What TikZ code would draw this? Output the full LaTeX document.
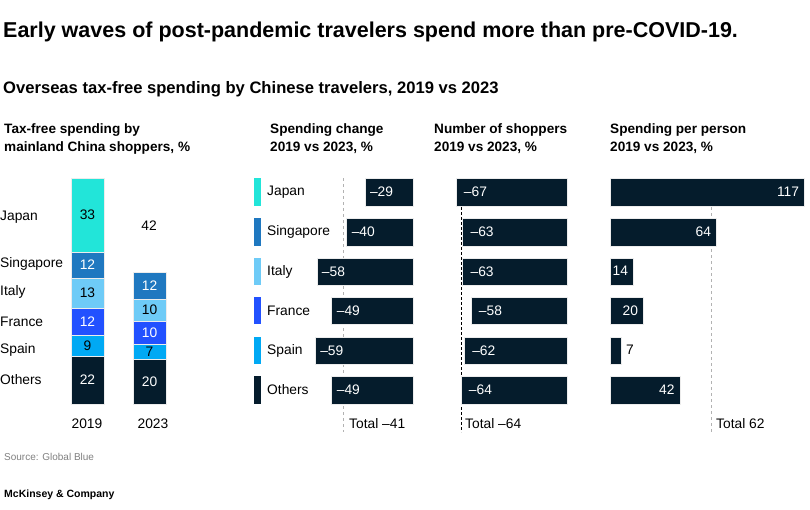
\documentclass[tikz,border=0pt]{standalone}
\usepackage{fontspec}
\setmainfont{Liberation Sans}
\definecolor{cjapan}{HTML}{22E5D9}
\definecolor{csing}{HTML}{1F78C0}
\definecolor{citaly}{HTML}{6ECBF7}
\definecolor{cfrance}{HTML}{2251FF}
\definecolor{cspain}{HTML}{00A9F4}
\definecolor{cdark}{HTML}{051C2C}
\begin{document}
\begin{tikzpicture}[x=1pt, y=-1pt, font=\fontsize{13.8}{15}\selectfont]
\tikzset{hdr/.style={anchor=north west, align=left, inner sep=0, font=\fontsize{13.6}{18}\selectfont\bfseries}}
\tikzset{lbl/.style={anchor=west, inner sep=0}}
\tikzset{seg/.style={draw=white!85!gray, line width=0.4pt}}
\useasboundingbox (0,0) rectangle (810,509);
% titles
\node[anchor=west, inner sep=0, font=\fontsize{21.5}{24}\selectfont\bfseries] (title) at (3,32) {Early waves of post-pandemic travelers spend more than pre-COVID-19.};
\node[anchor=west, inner sep=0, font=\fontsize{16.6}{18}\selectfont\bfseries] (sub) at (3,89) {Overseas tax-free spending by Chinese travelers, 2019 vs 2023};
\node[hdr] (h1) at (4,123) {Tax-free spending by\\mainland China shoppers, \%};
\node[hdr] (h2) at (270,123) {Spending change\\2019 vs 2023, \%};
\node[hdr] (h3) at (434,123) {Number of shoppers\\2019 vs 2023, \%};
\node[hdr] (h4) at (610,123) {Spending per person\\2019 vs 2023, \%};
% stacked bars
\foreach \a/\b/\c/\v/\t in {178/252/cjapan/33/black, 252/278/csing/12/white, 278/308/citaly/13/black, 308/335/cfrance/12/white, 335/356/cspain/9/black, 356/404/cdark/22/white}
  \filldraw[seg, fill=\c] (71,\a) rectangle node[text=\t] {\v} (104,\b);
\foreach \a/\b/\c/\v/\t in {272/299/csing/12/white, 299/321/citaly/10/black, 321/344/cfrance/10/white, 344/359/cspain/7/black, 359/404/cdark/20/white}
  \filldraw[seg, fill=\c] (133,\a) rectangle node[text=\t] {\v} (166,\b);
\node (j23) at (149,226) {42};
\foreach \y/\n in {217/Japan, 264/Singapore, 292/Italy, 322/France, 350/Spain, 380/Others}
  \node[lbl] at (0,\y) {\n};
\node (y19) at (87,424) {2019};
\node (y23) at (153,424) {2023};
% reference lines
\draw[gray!60, dashed] (343,178) -- (343,432);
\draw[black, densely dashed] (461,207) -- (461,432);
\draw[gray!60, dashed] (711,207) -- (711,432);
% rows
\foreach \a/\b/\c/\n/\s/\p/\q in {178/206/cjapan/Japan/29/67/117, 218/246/csing/Singapore/40/63/64, 258/285/citaly/Italy/58/63/14, 297/324/cfrance/France/49/58/20, 337/364/cspain/Spain/59/62/7, 376/404/cdark/Others/49/64/42} {
  \fill[\c] (254,\a) rectangle (261,\b);
  \node[lbl] at (267,{(\a+\b)/2}) {\n};
  \filldraw[seg, fill=cdark] ({413-1.66*\s},\a) rectangle (413,\b);
  \node[lbl, text=white] at ({413-1.66*\s+5},{(\a+\b)/2}) {–\s};
  \filldraw[seg, fill=cdark] ({567-1.66*\p},\a) rectangle (567,\b);
  \node[lbl, text=white] at ({567-1.66*\p+8},{(\a+\b)/2}) {–\p};
  \filldraw[seg, fill=cdark] (610,\a) rectangle ({610+1.66*\q},\b);
}
\foreach \a/\q in {192/117, 232/64, 271/14, 311/20, 390/42}
  \node[anchor=east, inner sep=0, text=white] at ({610+1.66*\q-5},\a) {\q};
\node[lbl] (p7) at (626,350) {7};
\node[lbl] (t1) at (349,424) {Total –41};
\node[lbl] (t2) at (465,424) {Total –64};
\node[lbl] (t3) at (716,424) {Total 62};
% footer
\node[lbl, text=gray, font=\fontsize{10}{12}\selectfont] (src) at (4,457) {Source: Global Blue};
\node[lbl, font=\fontsize{10.5}{12}\selectfont\bfseries] (mck) at (4,495) {McKinsey \& Company};
\end{tikzpicture}
\end{document}
